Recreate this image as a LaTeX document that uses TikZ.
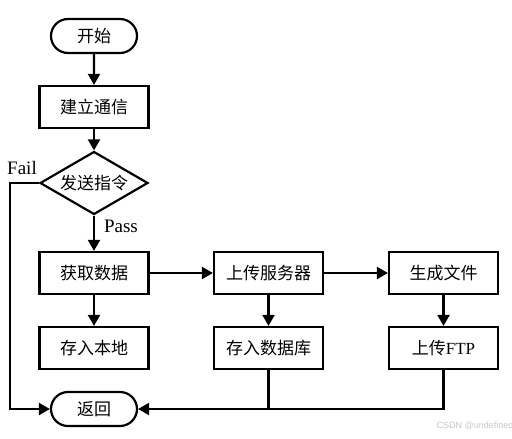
\documentclass[tikz,border=0pt]{standalone}
\usepackage{fontspec}
\setmainfont{Liberation Serif}
\newfontfamily\cjk{Noto Sans CJK SC}
\newfontfamily\wmfont{Liberation Sans}
\usetikzlibrary{arrows.meta,shapes.geometric,shapes.misc}

\begin{document}
\begin{tikzpicture}[x=0.5pt,y=0.5pt,yscale=-1,xscale=1,line width=1.1pt,
  proc/.style={draw,rectangle,minimum width=54.5pt,minimum height=21pt,inner sep=0pt,font=\cjk\fontsize{8.5}{9}\selectfont},
  term/.style={draw,rounded rectangle,minimum width=43pt,minimum height=17pt,inner sep=0pt,font=\cjk\fontsize{8.5}{9}\selectfont},
  dec/.style={draw,diamond,aspect=1.7,minimum width=54pt,minimum height=31.5pt,inner sep=0pt,font=\cjk\fontsize{8.5}{9}\selectfont},
  lbl/.style={inner sep=0.75pt,font=\fontsize{9.5}{10}\selectfont},
  flow/.style={-{Triangle[length=5.5pt,width=6pt]}}]
%set diagram size 512 x 438
\path[use as bounding box] (0,0) rectangle (512,438);

%Shape: Terminals and boxes
\node[term] (start) at (94,36) {开始};
\node[proc] (comm) at (94,107) {建立通信};
\node[dec] (send) at (94,183) {发送指令};
\node[proc] (fetch) at (94,273) {获取数据};
\node[proc] (server) at (268.5,273) {上传服务器};
\node[proc] (file) at (443.5,273) {生成文件};
\node[proc] (local) at (94,348) {存入本地};
\node[proc] (dbase) at (268.5,348) {存入数据库};
\node[proc] (ftp) at (443.5,348) {上传{\rmfamily FTP}};
\node[term] (back) at (94,409) {返回};

%Straight Lines
\draw[flow] (start) -- (comm);
\draw[flow] (comm) -- (send);
\draw[flow] (send) -- (fetch);
\draw[flow] (send.west) -- ++(-29,0) |- (back.west);
\draw[flow] (fetch) -- (server);
\draw[flow] (server) -- (file);
\draw[flow] (fetch) -- (local);
\draw[flow] (server) -- (dbase);
\draw[flow] (file) -- (ftp);
\draw[flow] (dbase.south) |- (back.east);
\draw (ftp.south) |- (dbase.south |- back.east);

% Text Node
\node[lbl] (fail) at (22,168) {Fail};
% Text Node
\node[lbl] (pass) at (121,226) {Pass};
% Text Node
\node[anchor=east,inner sep=0pt,text=gray!45,font=\wmfont\fontsize{4.5}{5}\selectfont] (mark) at (514,426) {CSDN @undefinec};
\end{tikzpicture}
\end{document}
